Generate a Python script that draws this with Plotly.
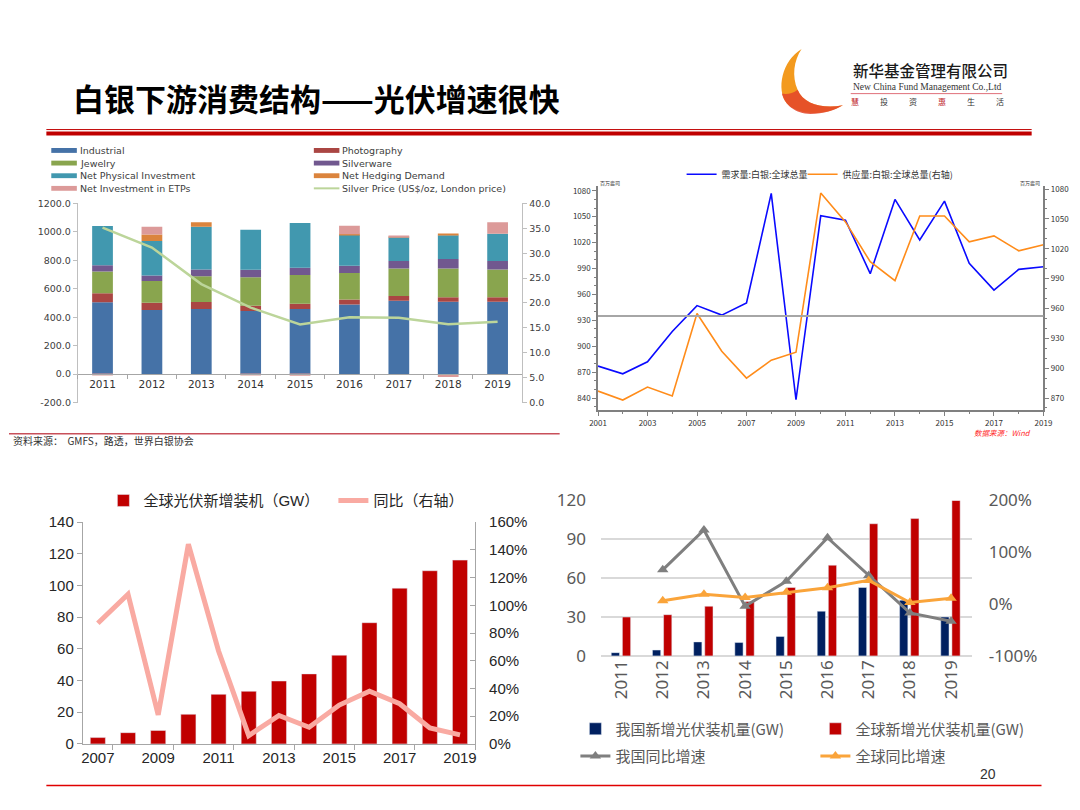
import plotly.graph_objects as go
import numpy as np

W, H = 1080, 810
def px(x): return x / W
def py(y): return 1 - y / H

# ---------------- Chart A: silver demand structure ----------------
years_a = ['2011', '2012', '2013', '2014', '2015', '2016', '2017', '2018', '2019']
industrial = [506, 450, 457, 443, 457, 490, 515, 508, 508]
photography = [63, 51, 50, 37, 38, 34, 34, 32, 32]
jewelry = [153, 153, 181, 201, 202, 187, 194, 203, 196]
silverware = [44, 39, 48, 53, 51, 50, 52, 66, 59]
net_physical = [275, 243, 300, 280, 314, 217, 168, 168, 191]
net_hedging = [0, 46, 32, 0, 0, 5, 4, 9, 0]
net_etps = [-10, 54, 0, -3, -12, 60, 4, -20, 82]
silver_price = [35.12, 31.15, 23.79, 19.08, 15.68, 17.14, 17.05, 15.71, 16.21]
left_ticks_a = [-200, 0, 200, 400, 600, 800, 1000, 1200]
right_ticks_a = [0, 5, 10, 15, 20, 25, 30, 35, 40]

# ---------------- Chart B: silver supply / demand ----------------
years_b = list(range(2001, 2020))
demand_b = [877, 868, 882, 917, 947, 936, 950, 1077, 838, 1051, 1046, 984, 1070, 1023, 1068, 996, 965, 989, 992]
supply_b = [877, 868, 881, 872, 955, 917, 890, 908, 916, 1076, 1047, 1007, 988, 1053, 1053, 1027, 1033, 1018, 1024]
ref_line_b = 935

# ---------------- Chart C: global PV installs ----------------
years_c = list(range(2007, 2020))
global_pv_c = [4.0, 7.1, 8.5, 18.7, 31.3, 33.2, 39.7, 44.2, 56.0, 76.5, 98.3, 109.3, 116.0]
yoy_c = [0.87, 1.08, 0.21, 1.44, 0.67, 0.06, 0.205, 0.12, 0.28, 0.38, 0.29, 0.115, 0.065]

# ---------------- Chart D: China vs global PV ----------------
years_d = ['2011', '2012', '2013', '2014', '2015', '2016', '2017', '2018', '2019']
china_pv = [2.5, 4.5, 10.8, 10.3, 15.0, 34.5, 52.8, 43.0, 30.0]
world_pv = [30.0, 31.8, 38.3, 42.0, 52.8, 70.0, 102.0, 106.0, 120.0]
china_yoy = [None, 0.66, 1.43, -0.04, 0.44, 1.28, 0.55, -0.17, -0.33]
world_yoy = [None, 0.063, 0.19, 0.125, 0.226, 0.313, 0.457, 0.031, 0.114]
right_ticks_d = [-1, 0, 1, 2]
right_text_d = ['-100%', '0%', '100%', '200%']

FA = 'DejaVu Sans'
FB = 'Noto Sans CJK SC'
FC = 'Liberation Sans, Noto Sans CJK SC'
FD = 'Noto Sans, Noto Sans CJK SC'

fig = go.Figure()

# ---- Chart A traces (stacked via base)
series_a = [
    ('Industrial', industrial, '#4572A7'),
    ('Photography', photography, '#AA4643'),
    ('Jewelry', jewelry, '#89A54E'),
    ('Silverware', silverware, '#71588F'),
    ('Net Physical Investment', net_physical, '#4198AF'),
    ('Net Hedging Demand', net_hedging, '#DB843D'),
    ('Net Investment in ETPs', net_etps, '#DC9A99'),
]
pos = np.zeros(len(years_a))
neg = np.zeros(len(years_a))
for name, vals, color in series_a:
    v = np.array(vals, dtype=float)
    base = np.where(v >= 0, pos, neg)
    fig.add_trace(go.Bar(x=years_a, y=v, base=base, width=0.42, name=name,
                         marker=dict(color=color, line=dict(width=0)),
                         xaxis='x', yaxis='y', showlegend=False))
    pos += np.where(v >= 0, v, 0)
    neg += np.where(v < 0, v, 0)
price_name = 'Silver Price (US$/oz, London price)'
price_color = '#BCD59A'
fig.add_trace(go.Scatter(x=years_a, y=silver_price, mode='lines', name=price_name,
                         line=dict(color=price_color, width=2.5),
                         xaxis='x', yaxis='y2', showlegend=False))

# ---- Chart B traces
fig.add_trace(go.Scatter(x=years_b, y=demand_b, mode='lines', name='需求量:白银:全球总量',
                         line=dict(color='#0A0AFF', width=1.6), xaxis='x2', yaxis='y3',
                         legend='legend', legendwidth=76))
fig.add_trace(go.Scatter(x=years_b, y=supply_b, mode='lines', name='供应量:白银:全球总量(右轴)',
                         line=dict(color='#FF8C1A', width=1.6), xaxis='x2', yaxis='y4',
                         legend='legend', legendwidth=120))

# ---- Chart C traces
fig.add_trace(go.Bar(x=years_c, y=global_pv_c, width=0.5, name='全球光伏新增装机（GW）',
                     marker=dict(color='#C00000'), xaxis='x3', yaxis='y5', legend='legend2'))
fig.add_trace(go.Scatter(x=years_c, y=yoy_c, mode='lines', name='同比（右轴）',
                         line=dict(color='#F9AAA2', width=5), xaxis='x3', yaxis='y6', legend='legend2'))

# ---- Chart D traces
fig.add_trace(go.Bar(x=years_d, y=china_pv, width=0.2, offset=-0.25, name='我国新增光伏装机量(GW)',
                     marker=dict(color='#002060'), xaxis='x4', yaxis='y7', legend='legend3'))
fig.add_trace(go.Bar(x=years_d, y=world_pv, width=0.2, offset=0.02, name='全球新增光伏装机量(GW)',
                     marker=dict(color='#C00000'), xaxis='x4', yaxis='y7', legend='legend3'))
fig.add_trace(go.Scatter(x=years_d, y=china_yoy, mode='lines+markers', name='我国同比增速',
                         line=dict(color='#7F7F7F', width=3),
                         marker=dict(symbol='triangle-up', size=10, color='#7F7F7F'),
                         xaxis='x4', yaxis='y8', legend='legend4'))
fig.add_trace(go.Scatter(x=years_d, y=world_yoy, mode='lines+markers', name='全球同比增速',
                         line=dict(color='#FAA43A', width=3),
                         marker=dict(symbol='triangle-up', size=10, color='#FAA43A'),
                         xaxis='x4', yaxis='y8', legend='legend4'))

axA_font = dict(family=FA, size=9.5, color='#404040')
axAx_font = dict(family=FA, size=10.5, color='#333333')
axB_font = dict(family=FB, size=8, color='#333333')
axC_font = dict(family=FC, size=15, color='#262626')
axD_font = dict(family=FD, size=17, color='#595959')

shapes = []
annotations = []

# ---- header
annotations.append(dict(text='白银下游消费结构——光伏增速很快', x=px(63), y=py(88), xref='paper', yref='paper',
                        xanchor='left', yanchor='middle', showarrow=False,
                        font=dict(family=FB, size=31, color='#000000', weight=700)))
def P(x, y):
    return f"{x / W:.5f},{1 - y / H:.5f}"
logo_path = (f"M {P(806,38)} C {P(786,50)} {P(780,80)} {P(791,94)} C {P(801,106)} {P(828,108)} {P(848,96)} "
             f"C {P(828,100)} {P(808,95)} {P(802,80)} C {P(796,66)} {P(798,50)} {P(806,38)} Z")
shapes.append(dict(type='path', path=logo_path, xref='paper', yref='paper', fillcolor='#F39A1E', line=dict(width=0)))
logo_path2 = (f"M {P(786,84)} C {P(789,96)} {P(800,105)} {P(815,105)} C {P(828,105)} {P(840,101)} {P(848,96)} "
              f"C {P(828,100)} {P(808,95)} {P(802,80)} C {P(797,84)} {P(791,85)} {P(786,84)} Z")
shapes.append(dict(type='path', path=logo_path2, xref='paper', yref='paper', fillcolor='#E3452A',
                   line=dict(width=0), opacity=0.85))
annotations.append(dict(text='新华基金管理有限公司', x=px(856), y=py(60), xref='paper', yref='paper',
                        xanchor='left', yanchor='middle', showarrow=False,
                        font=dict(family=FB, size=15.5, color='#1A1A1A', weight=500)))
annotations.append(dict(text='New China Fund Management Co.,Ltd', x=px(856), y=py(77), xref='paper', yref='paper',
                        xanchor='left', yanchor='middle', showarrow=False,
                        font=dict(family='Liberation Serif', size=9.5, color='#333333')))
shapes.append(dict(type='line', xref='paper', yref='paper', x0=px(856), x1=px(1010), y0=py(84), y1=py(84),
                   line=dict(color='#E0707A', width=1)))
slogan = ['慧', '投', '资', '惠', '生', '活']
slogan_colors = ['#C0282D', '#333333', '#333333', '#C0282D', '#333333', '#333333']
for i, (ch, col) in enumerate(zip(slogan, slogan_colors)):
    annotations.append(dict(text=ch, x=px(860 + i * 29.5), y=py(92), xref='paper', yref='paper',
                            xanchor='center', yanchor='middle', showarrow=False,
                            font=dict(family=FB, size=8, color=col)))
shapes.append(dict(type='line', xref='paper', yref='paper', x0=px(38), x1=px(1040), y0=py(121), y1=py(121),
                   line=dict(color='#C00000', width=1)))
shapes.append(dict(type='rect', xref='paper', yref='paper', x0=px(38), x1=px(1040), y0=py(127), y1=py(123),
                   fillcolor='#C00000', line=dict(width=0)))

# ---- Chart A manual legend (4 rows x 2 columns)
legend_items_a = [(n, c) for n, _, c in series_a] + [(price_name, price_color)]
for i, (name, color) in enumerate(legend_items_a):
    col, row = i % 2, i // 2
    x0 = 43 if col == 0 else 310
    yc = 142.5 + row * 13
    if name == price_name:
        shapes.append(dict(type='line', xref='paper', yref='paper', x0=px(x0), x1=px(x0 + 26),
                           y0=py(yc), y1=py(yc), line=dict(color=color, width=2)))
    else:
        shapes.append(dict(type='rect', xref='paper', yref='paper', x0=px(x0), x1=px(x0 + 26),
                           y0=py(yc + 2.5), y1=py(yc - 2.5), fillcolor=color, line=dict(width=0)))
    annotations.append(dict(text=name, x=px(x0 + 27), y=py(yc), xref='paper', yref='paper',
                            xanchor='left', yanchor='middle', showarrow=False, font=axA_font))
shapes.append(dict(type='line', xref='paper', yref='paper', x0=0, x1=px(560), y0=py(434), y1=py(434),
                   line=dict(color='#C8505A', width=1.5)))
annotations.append(dict(text='资料来源：  GMFS，路透，世界白银协会', x=px(2), y=py(441), xref='paper', yref='paper',
                        xanchor='left', yanchor='middle', showarrow=False,
                        font=dict(family=FB, size=10, color='#333333')))

# ---- Chart B extras
shapes.append(dict(type='line', xref='x2 domain', yref='y3', x0=0, x1=1, y0=ref_line_b, y1=ref_line_b,
                   line=dict(color='#A6A6A6', width=2)))
annotations.append(dict(text='百万盎司', x=px(599), y=py(176), xref='paper', yref='paper', xanchor='left',
                        yanchor='middle', showarrow=False, font=dict(family=FB, size=5, color='#333333')))
annotations.append(dict(text='百万盎司', x=px(1050), y=py(176), xref='paper', yref='paper', xanchor='right',
                        yanchor='middle', showarrow=False, font=dict(family=FB, size=5, color='#333333')))
annotations.append(dict(text='数据来源：Wind', x=px(1041), y=py(433), xref='paper', yref='paper', xanchor='right',
                        yanchor='middle', showarrow=False,
                        font=dict(family=FB, size=7.5, color='#FF2A2A', style='italic')))

# ---- footer
annotations.append(dict(text='20', x=px(996), y=py(784), xref='paper', yref='paper', xanchor='center',
                        yanchor='middle', showarrow=False, font=dict(family=FC, size=14, color='#333333')))
shapes.append(dict(type='line', xref='paper', yref='paper', x0=px(38), x1=px(1050), y0=py(796), y1=py(796),
                   line=dict(color='#E00000', width=1.5)))

fig.update_layout(
    width=W, height=H, margin=dict(l=0, r=0, t=0, b=0),
    paper_bgcolor='white', plot_bgcolor='rgba(0,0,0,0)',
    barmode='overlay', showlegend=True,
    # Chart A
    xaxis=dict(domain=[px(70), px(522)], anchor='free', position=py(372.7), type='category',
               range=[-0.5, 8.5], showline=True, linecolor='#A6A6A6', ticks='outside', tickson='boundaries',
               ticklen=4, tickcolor='#A6A6A6', tickfont=axAx_font, showgrid=False, zeroline=False),
    yaxis=dict(domain=[py(402), py(197)], anchor='x', range=[-200, 1200],
               tickvals=left_ticks_a, ticktext=[f"{v:.1f}" for v in left_ticks_a],
               showline=True, linecolor='#BFBFBF', ticks='outside', ticklen=4, tickcolor='#BFBFBF',
               tickfont=axA_font, showgrid=False, zeroline=False),
    yaxis2=dict(overlaying='y', side='right', anchor='x', range=[0, 40],
                tickvals=right_ticks_a, ticktext=[f"{v:.1f}" for v in right_ticks_a],
                showline=True, linecolor='#BFBFBF', ticks='outside', ticklen=4, tickcolor='#BFBFBF',
                tickfont=axA_font, showgrid=False, zeroline=False),
    # Chart B
    xaxis2=dict(domain=[px(599), px(1052)], anchor='y3', range=[2001, 2019], tick0=2001, dtick=2,
                showline=True, linecolor='#808080', linewidth=1.5, ticks='outside', ticklen=4,
                tickcolor='#808080', minor=dict(dtick=1, ticks='outside', ticklen=2, tickcolor='#808080'),
                tickfont=axB_font, showgrid=False, zeroline=False),
    yaxis3=dict(domain=[py(410), py(179)], anchor='x2', range=[825.7, 1085.6], tick0=840, dtick=30,
                showline=True, linecolor='#808080', linewidth=1.5, ticks='outside', ticklen=4,
                tickcolor='#808080', minor=dict(dtick=10, ticks='outside', ticklen=2, tickcolor='#808080'),
                tickfont=axB_font, showgrid=False, zeroline=False),
    yaxis4=dict(overlaying='y3', side='right', anchor='x2', range=[857.6, 1083.2], tick0=870, dtick=30,
                showline=True, linecolor='#808080', linewidth=1.5, ticks='outside', ticklen=4,
                tickcolor='#808080', minor=dict(dtick=10, ticks='outside', ticklen=2, tickcolor='#808080'),
                tickfont=axB_font, showgrid=False, zeroline=False),
    # Chart C
    xaxis3=dict(domain=[px(75), px(474)], anchor='y5', range=[2006.5, 2019.5], tick0=2007, dtick=2,
                ticks='', showline=True, linecolor='#A6A6A6',
                minor=dict(tick0=2007.5, dtick=2, ticks='outside', ticklen=5, tickcolor='#A6A6A6'),
                tickfont=axC_font, showgrid=False, zeroline=False),
    yaxis5=dict(domain=[py(753.3), py(525)], anchor='x3', range=[0, 140], dtick=20,
                showline=True, linecolor='#A6A6A6', ticks='outside', ticklen=5, tickcolor='#A6A6A6',
                tickfont=axC_font, showgrid=False, zeroline=False),
    yaxis6=dict(overlaying='y5', side='right', anchor='x3', range=[0, 1.6], dtick=0.2, tickformat='.0%',
                showline=True, linecolor='#A6A6A6', ticks='inside', ticklen=5, tickcolor='#A6A6A6',
                ticklabelstandoff=10, tickfont=axC_font, showgrid=False, zeroline=False),
    # Chart D
    xaxis4=dict(domain=[px(602), px(979)], anchor='y7', type='category', range=[-0.5, 8.5],
                tickangle=-90, ticks='', showline=False, showgrid=False, zeroline=False, tickfont=axD_font),
    yaxis7=dict(domain=[py(662.7), py(502.7)], anchor='x4', range=[0, 120], dtick=30,
                showgrid=True, gridcolor='#D9D9D9', gridwidth=1.5, zeroline=True, zerolinecolor='#D9D9D9',
                zerolinewidth=1.5, showline=False, ticks='', ticklabelstandoff=14, tickfont=axD_font),
    yaxis8=dict(overlaying='y7', side='right', anchor='x4', range=[-1, 2],
                tickvals=right_ticks_d, ticktext=right_text_d, showgrid=False, zeroline=False,
                showline=False, ticks='', ticklabelstandoff=16, tickfont=axD_font),
    legend=dict(x=px(684), y=py(167), xanchor='left', yanchor='middle', orientation='h',
                font=dict(family=FB, size=9, color='#333333'), bgcolor='rgba(0,0,0,0)', traceorder='normal'),
    legend2=dict(x=px(96), y=py(503), xanchor='left', yanchor='middle', orientation='h', entrywidth=185,
                 font=dict(family=FC, size=15, color='#262626'), bgcolor='rgba(0,0,0,0)', traceorder='normal'),
    legend3=dict(x=px(576), y=py(738), xanchor='left', yanchor='middle', orientation='h', entrywidth=195,
                 font=dict(family=FB, size=15, color='#595959'), bgcolor='rgba(0,0,0,0)', traceorder='normal'),
    legend4=dict(x=px(576), y=py(766), xanchor='left', yanchor='middle', orientation='h', entrywidth=195,
                 font=dict(family=FB, size=15, color='#595959'), bgcolor='rgba(0,0,0,0)', traceorder='normal'),
    shapes=shapes, annotations=annotations,
)

fig.write_html("out.html", post_script="document.body.style.margin='0px';")
